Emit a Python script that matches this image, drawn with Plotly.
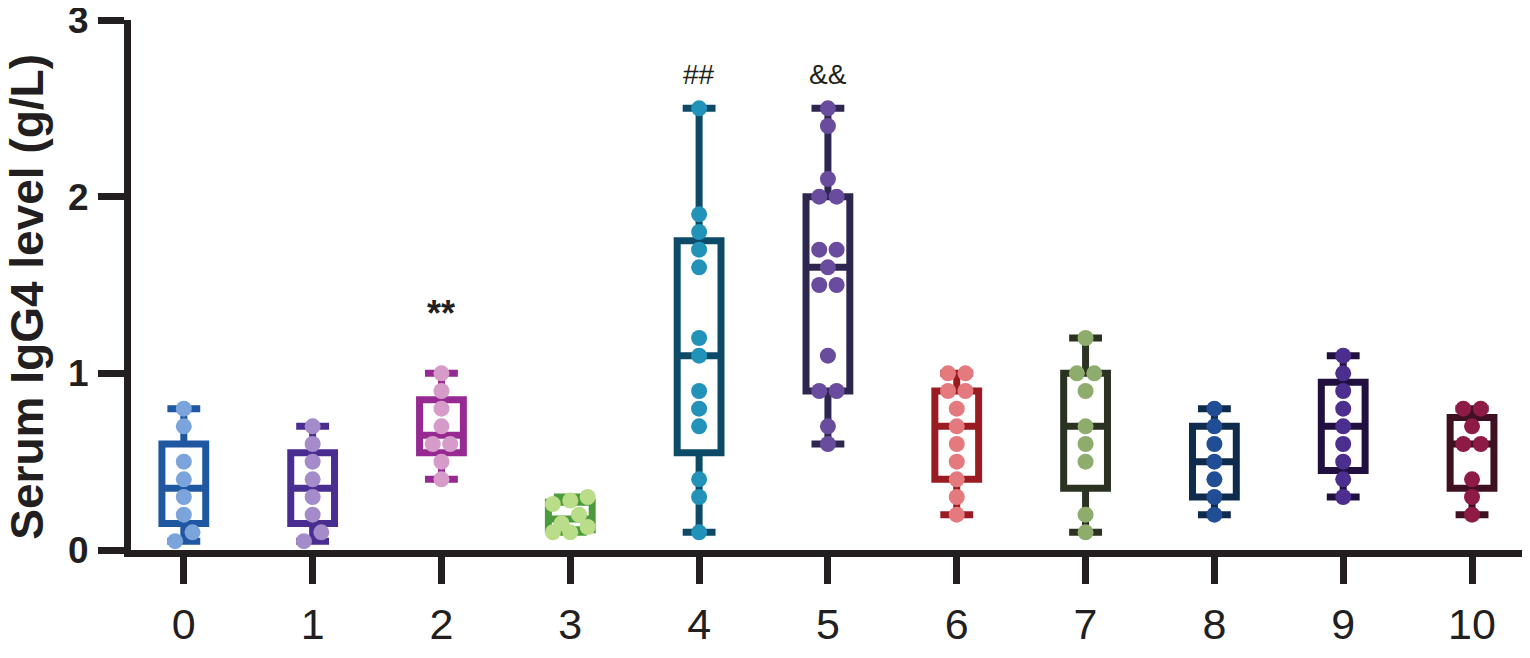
import numpy as np
import plotly.graph_objects as go

# ---------------- data ----------------
groups = ["0", "1", "2", "3", "4", "5", "6", "7", "8", "9", "10"]
g0 = [0.05, 0.1, 0.2, 0.3, 0.4, 0.5, 0.7, 0.8]
g1 = [0.05, 0.1, 0.2, 0.3, 0.4, 0.5, 0.6, 0.7]
g2 = [0.4, 0.5, 0.6, 0.6, 0.7, 0.8, 0.9, 1.0]
g3 = [0.1, 0.1, 0.13, 0.15, 0.2, 0.26, 0.28, 0.3]
g4 = [0.1, 0.3, 0.4, 0.7, 0.8, 0.9, 1.1, 1.2, 1.6, 1.7, 1.8, 1.9, 2.5]
g5 = [0.6, 0.7, 0.9, 0.9, 1.1, 1.5, 1.5, 1.6, 1.7, 1.7, 2.0, 2.0, 2.1, 2.4, 2.5]
g6 = [0.2, 0.3, 0.4, 0.5, 0.6, 0.7, 0.8, 0.9, 0.9, 1.0, 1.0]
g7 = [0.1, 0.2, 0.5, 0.6, 0.7, 0.9, 1.0, 1.0, 1.2]
g8 = [0.2, 0.3, 0.4, 0.5, 0.6, 0.7, 0.8]
g9 = [0.3, 0.4, 0.5, 0.6, 0.7, 0.8, 0.9, 1.0, 1.1]
g10 = [0.2, 0.3, 0.4, 0.6, 0.6, 0.7, 0.8, 0.8]
values = [g0, g1, g2, g3, g4, g5, g6, g7, g8, g9, g10]

box_colors = ["#1f58a0", "#4a2d90", "#962a92", "#4c9a3c", "#0d4a68", "#2f2650",
              "#9a1c22", "#2a3321", "#0e2a4c", "#21103f", "#3f0f22"]
point_colors = ["#7ba4dc", "#a48bc9", "#d69bc9", "#b9dd88", "#2392b8", "#6a4c9e",
                "#e47a7e", "#8eac6c", "#214d95", "#4b2e8e", "#8e1a46"]

sig_labels = ["", "", "**", "", "##", "&&", "", "", "", "", ""]
sig_heights = [None, None, 1.34, None, 2.69, 2.69, None, None, None, None, None]
y_ticks = [0, 1, 2, 3]
y_title = "Serum IgG4 level (g/L)"

TXT = "#231f20"
FONT = "Liberation Sans, Arial, Helvetica, sans-serif"


def swarm_offsets(vals, binw=0.09, step=0.135):
    vals = np.asarray(vals, dtype=float)
    bins = np.round(vals / binw).astype(int)
    off = np.zeros(len(vals))
    for b in np.unique(bins):
        idx = np.where(bins == b)[0]
        idx = idx[np.argsort(vals[idx], kind="stable")]
        k = len(idx)
        for j, ii in enumerate(idx):
            off[ii] = (j - (k - 1) / 2) * step
    return off


fig = go.Figure()

for i, vals in enumerate(values):
    fig.add_trace(go.Box(
        x=[i] * len(vals), y=vals,
        boxpoints=False, quartilemethod="exclusive",
        width=0.34, whiskerwidth=0.75,
        line=dict(color=box_colors[i], width=7),
        fillcolor="rgba(255,255,255,0)",
        hoverinfo="skip", showlegend=False,
    ))

for i, vals in enumerate(values):
    off = swarm_offsets(vals)
    fig.add_trace(go.Scatter(
        x=[i + o for o in off], y=vals, mode="markers",
        marker=dict(size=16, color=point_colors[i], line=dict(width=0)),
        cliponaxis=False, hoverinfo="skip", showlegend=False,
    ))

annotations = []
for i, (lab, h) in enumerate(zip(sig_labels, sig_heights)):
    if lab:
        bold = lab == "**"
        annotations.append(dict(
            x=i, y=h, xref="x", yref="y", text=lab, showarrow=False,
            font=dict(family=FONT, size=36 if bold else 28, color=TXT,
                      weight="bold" if bold else "normal"),
            xanchor="center", yanchor="middle",
        ))

annotations.append(dict(
    x=-104 / 1399, y=0.478, xref="paper", yref="paper", text=y_title,
    showarrow=False, textangle=-90, xanchor="center", yanchor="middle",
    font=dict(family=FONT, size=46, color=TXT, weight="bold"),
))

fig.update_layout(
    width=1522, height=650,
    margin=dict(l=123, r=0, t=12, b=108),
    paper_bgcolor="white", plot_bgcolor="white",
    boxmode="overlay",
    showlegend=False,
    annotations=annotations,
    font=dict(family=FONT, color=TXT),
)

fig.update_xaxes(
    range=[-0.41, 10.45], tickmode="array",
    tickvals=list(range(len(groups))), ticktext=groups,
    showline=True, linewidth=7, linecolor=TXT,
    ticks="outside", ticklen=27, tickwidth=7, tickcolor=TXT,
    tickfont=dict(family=FONT, size=43, color=TXT),
    ticklabelstandoff=3, ticklabeloverflow="allow", automargin=False,
    showgrid=False, zeroline=False,
)
fig.update_yaxes(
    range=[0, 3], tickmode="array", tickvals=y_ticks,
    ticktext=[str(t) for t in y_ticks],
    showline=True, linewidth=7, linecolor=TXT,
    ticks="outside", ticklen=26, tickwidth=7, tickcolor=TXT,
    tickfont=dict(family=FONT, size=37, color=TXT, weight="bold"),
    ticklabelstandoff=2, ticklabeloverflow="allow", automargin=False,
    showgrid=False, zeroline=False,
)

fig.write_html("out.html")
